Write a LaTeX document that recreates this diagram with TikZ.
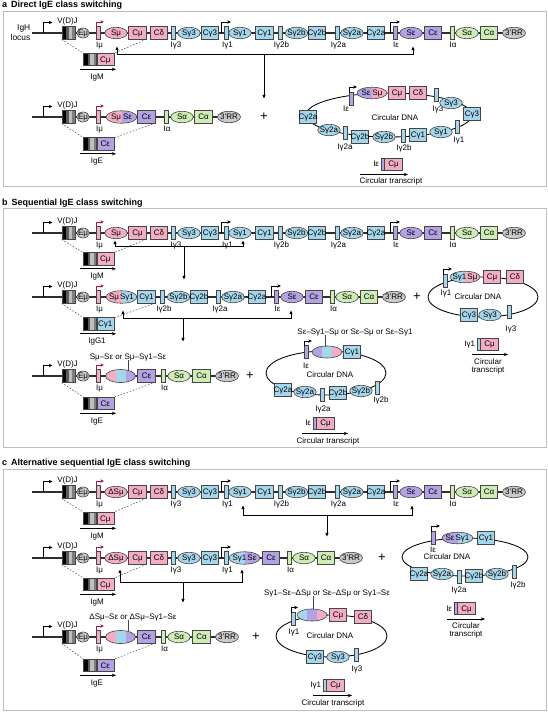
\documentclass[tikz,border=0pt]{standalone}
\usepackage{fontspec}
\setmainfont{Liberation Sans}
\usetikzlibrary{shapes.geometric,arrows.meta,calc}
\definecolor{pinkF}{HTML}{F4AEC4}
\definecolor{blueF}{HTML}{A6D6EC}
\definecolor{purpF}{HTML}{B4A2E4}
\definecolor{greenF}{HTML}{CDEDB5}
\definecolor{grayF}{HTML}{CACACA}
\definecolor{edge}{HTML}{454545}
\definecolor{lineC}{HTML}{2E2E2E}
\definecolor{redA}{HTML}{A01E3C}
\definecolor{frameC}{HTML}{BDBDBD}
\definecolor{gA}{HTML}{5A5A5A}
\definecolor{gB}{HTML}{BEBEBE}
\definecolor{gC}{HTML}{7E7E7E}
\tikzset{
  base/.style={draw=edge, line width=0.6pt, inner sep=0pt, outer sep=0pt,
    font=\fontsize{8}{9}\selectfont, text height=5.4pt, text depth=0pt,
    execute at begin node={\hbox to 0pt\bgroup\hss}, execute at end node={\hss\egroup}},
  cbox/.style={base, rectangle, minimum width=17.5pt, minimum height=12.5pt},
  sell/.style={base, ellipse, minimum width=22.5pt, minimum height=11.5pt},
  ibar/.style={base, rectangle, minimum width=4pt, minimum height=13pt},
  tbar/.style={base, rectangle, minimum width=3.5pt, minimum height=12pt},
  eell/.style={base, ellipse, fill=grayF, minimum width=12.5pt, minimum height=10pt},
  rrell/.style={base, ellipse, fill=grayF, minimum width=23pt, minimum height=11.5pt},
  lbl/.style={inner sep=0pt, font=\fontsize{8}{9}\selectfont, text height=5.4pt, text depth=0pt},
  vdjs/.style={draw=edge, line width=0.6pt, inner sep=0pt, minimum width=13pt, minimum height=12.5pt,
    path picture={
      \fill[black] (path picture bounding box.south west) rectangle ([xshift=4pt]path picture bounding box.north west);
      \fill[gA] ([xshift=4pt]path picture bounding box.south west) rectangle ([xshift=6.5pt]path picture bounding box.north west);
      \fill[gB] ([xshift=6.5pt]path picture bounding box.south west) rectangle ([xshift=10pt]path picture bounding box.north west);
      \fill[gC] ([xshift=10pt]path picture bounding box.south west) rectangle (path picture bounding box.north east);}},
  duo/.style 2 args={base, ellipse, minimum width=31pt, minimum height=12.5pt,
    path picture={
      \fill[#1] (path picture bounding box.south west) rectangle (path picture bounding box.north);
      \fill[#2] (path picture bounding box.south) rectangle (path picture bounding box.north east);}},
  tri/.style n args={3}{base, ellipse, minimum width=30pt, minimum height=13pt,
    path picture={
      \fill[#1] (path picture bounding box.south west) rectangle ([xshift=-5pt]path picture bounding box.north);
      \fill[#2] ([xshift=-5pt]path picture bounding box.south) rectangle ([xshift=5pt]path picture bounding box.north);
      \fill[#3] ([xshift=5pt]path picture bounding box.south) rectangle (path picture bounding box.north east);}},
  locus/.style={draw=lineC, line width=1.05pt},
  prom/.style={draw=black, line width=0.75pt, -{Stealth[length=3.8pt,width=3.4pt]}},
  promr/.style={draw=redA, line width=0.75pt, -{Stealth[length=3.8pt,width=3.4pt]}},
  dsh/.style={draw=edge, line width=0.5pt, dash pattern=on 1.6pt off 1.6pt},
  swarr/.style={draw=black, line width=0.85pt, {Latex[length=4.2pt,width=3.6pt]}-{Latex[length=4.2pt,width=3.6pt]}},
  dnarr/.style={draw=black, line width=0.85pt, -{Latex[length=4.2pt,width=3.6pt]}},
  tarr/.style={draw=black, line width=0.85pt, -{Stealth[length=4.2pt,width=3.4pt]}},
  tick/.style={draw=edge, line width=0.55pt},
  loopl/.style={draw=black, line width=0.85pt},
  frame/.style={draw=frameC, line width=1pt},
  plus/.style={inner sep=0pt, font=\fontsize{13}{13}\selectfont},
  ttl/.style={inner sep=0pt, anchor=west, font=\fontsize{9}{10}\selectfont\bfseries},
}
% row pieces (used inside a shifted scope, y=0 is the locus line)
\newcommand{\rowstart}[2]{%
  \coordinate (#1L) at (32,0);
  \coordinate (#1E) at (#2,0);
  \draw[locus] (#1L) -- (#1E);
  \coordinate (#1P) at (43,0);
  \draw[prom] (#1P) -- ++(0,-10.5) -- ++(9.5,0);
  \node[vdjs] (#1V) at (68.5,0) {};
  \node[lbl] (#1Vt) at (67.5,-12.5) {V(D)J};
  \node[eell] (#1Emu) at (83,0) {Eμ};
  \node[ibar,fill=pinkF] (#1Imu) at (98,0) {};
  \draw[promr] (#1Imu.north west) -- ++(0,-4.5) -- ++(8,0);
  \node[lbl] (#1tImu) at (99.5,11.5) {Iμ};
}
\newcommand{\germmid}[2]{%
  \node[sell,fill=pinkF] (#1Smu) at (116,0) {#2};
  \node[cbox,fill=pinkF] (#1Cmu) at (137.5,0) {Cμ};
  \node[cbox,fill=pinkF] (#1Cd) at (159,0) {Cδ};
  \node[ibar,fill=blueF] (#1Ig3) at (173.5,0) {};
  \node[lbl] (#1tIg3) at (176,11.5) {Iγ3};
  \node[sell,fill=blueF] (#1Sg3) at (189,0) {Sγ3};
  \node[cbox,fill=blueF] (#1Cg3) at (210,0) {Cγ3};
  \node[ibar,fill=blueF] (#1Ig1) at (226,0) {};
  \draw[prom] ([xshift=-3pt]#1Ig1.west) -- ++(0,-11) -- ++(10,0);
  \node[lbl] (#1tIg1) at (227.5,11.5) {Iγ1};
}
\newcommand{\germrest}[1]{%
  \node[sell,fill=blueF] (#1Sg1) at (240,0) {Sγ1};
  \node[cbox,fill=blueF] (#1Cg1) at (264.5,0) {Cγ1};
  \node[ibar,fill=blueF] (#1Ig2b) at (280,0) {};
  \node[lbl] (#1tIg2b) at (281.5,11.5) {Iγ2b};
  \node[sell,fill=blueF] (#1Sg2b) at (296.5,0) {Sγ2b};
  \node[cbox,fill=blueF] (#1Cg2b) at (317,0) {Cγ2b};
  \node[ibar,fill=blueF] (#1Ig2a) at (337,0) {};
  \node[lbl] (#1tIg2a) at (338.5,11.5) {Iγ2a};
  \node[sell,fill=blueF] (#1Sg2a) at (352,0) {Sγ2a};
  \node[cbox,fill=blueF] (#1Cg2a) at (376,0) {Cγ2a};
  \node[ibar,fill=purpF] (#1Ie) at (395,0) {};
  \draw[prom] ([xshift=-3pt]#1Ie.west) -- ++(0,-11) -- ++(10,0);
  \node[lbl] (#1tIe) at (396,11.5) {Iε};
  \node[sell,fill=purpF] (#1Se) at (411,0) {Sε};
  \node[cbox,fill=purpF] (#1Ce) at (433,0) {Cε};
  \node[ibar,fill=greenF] (#1Ia) at (452,0) {};
  \node[lbl] (#1tIa) at (453,11.5) {Iα};
  \node[sell,fill=greenF] (#1Sa) at (467,0) {Sα};
  \node[cbox,fill=greenF] (#1Ca) at (489,0) {Cα};
  \node[rrell] (#1RR) at (514,0) {3'RR};
}
\newcommand{\germrow}[3]{%
  \begin{scope}[shift={(0,#2)}]
    \rowstart{#1}{514}
    \germmid{#1}{#3}
    \germrest{#1}
  \end{scope}}
\newcommand{\tscript}[5]{%
  \node[vdjs] (#1tV) at (90,#2) {};
  \node[cbox,fill=#3,anchor=west,minimum width=17pt] (#1tC) at (#1tV.east) {#4};
  \coordinate (#1tA) at (80,#2+9.8);
  \coordinate (#1tB) at (116,#2+9.8);
  \draw[tarr] (#1tA) -- (#1tB);
  \node[lbl] (#1tL) at (97,#2+17) {#5};
}
\newcommand{\ctscript}[8]{%
  \node[tbar,fill=#4] (#1I) at (#2,#3) {};
  \node[cbox,fill=pinkF,anchor=west,minimum height=12pt] (#1C) at (#1I.east) {Cμ};
  \node[lbl,anchor=east] (#1L) at ([xshift=-2pt]#1I.west) {#5};
  \coordinate (#1A) at (#6,#3+10.5);
  \coordinate (#1B) at (#7,#3+10.5);
  \draw[tarr] (#1A) -- (#1B);
  #8
}
\begin{document}
\begin{tikzpicture}[x=1pt,y=-1pt]
\useasboundingbox (0,0) rectangle (548,713);
%================ panel a
\node[ttl] (ta) at (2,5) {a\hspace{4pt}Direct IgE class switching};
\draw[frame] (3,11) rectangle (546,186);
\node[lbl,anchor=east,font=\fontsize{8.4}{9}\selectfont] (alo1) at (30.5,27.5) {IgH};
\node[lbl,anchor=east,font=\fontsize{8.4}{9}\selectfont] (alo2) at (30.5,37.5) {locus};
\germrow{a1}{33}{Sμ}
\tscript{a1}{59.5}{pinkF}{Cμ}{IgM}
\draw[dsh] (a1V.south west) -- (a1tV.north west);
\draw[dsh] (a1Cmu.south east) -- (a1tC.north east);
\coordinate (a1s1) at (117,46);
\coordinate (a1s2) at (413,46);
\draw[swarr] (a1s1) -- ++(0,8.5) -| (a1s2);
\coordinate (a1d1) at (264,54.5);
\coordinate (a1d2) at (264,99);
\draw[dnarr] (a1d1) -- (a1d2);
% row a2
\begin{scope}[shift={(0,117)}]
  \rowstart{a2}{229}
  \node[duo={pinkF}{purpF}] (a2Sme) at (121.5,0) {Sμ\hspace{2pt}Sε};
  \node[cbox,fill=purpF] (a2Ce) at (146.5,0) {Cε};
  \node[ibar,fill=greenF] (a2Ia) at (166,0) {};
  \node[lbl] (a2tIa) at (167,11.5) {Iα};
  \node[sell,fill=greenF] (a2Sa) at (182,0) {Sα};
  \node[cbox,fill=greenF] (a2Ca) at (203.5,0) {Cα};
  \node[rrell] (a2RR) at (229,0) {3'RR};
\end{scope}
\tscript{a2}{144}{purpF}{Cε}{IgE}
\draw[dsh] (a2V.south west) -- (a2tV.north west);
\draw[dsh] (a2Ce.south east) -- (a2tC.north east);
\node[plus] (aplus) at (264,117) {+};
% circle a
\coordinate (acirc) at (389,115);
\draw[loopl] (acirc) ellipse [x radius=83pt, y radius=22pt];
\node[ibar,fill=purpF] (acIe) at (351,99) {};
\draw[prom] (acIe.north west) -- ++(0,-5.5) -- ++(8,0);
\node[lbl] (actIe) at (346,108.5) {Iε};
\node[duo={purpF}{pinkF},minimum width=30pt,minimum height=11.5pt] (acSem) at (372,93) {Sε\hspace{2pt}Sμ};
\node[cbox,fill=pinkF] (acCmu) at (397,93) {Cμ};
\node[cbox,fill=pinkF] (acCd) at (418,93) {Cδ};
\node[ibar,fill=blueF] (acIg3) at (436,95) {};
\node[lbl] (actIg3) at (438,108.5) {Iγ3};
\node[sell,fill=blueF] (acSg3) at (451,103) {Sγ3};
\node[cbox,fill=blueF] (acCg3) at (472,114) {Cγ3};
\node[ibar,fill=blueF] (acIg1) at (457,127) {};
\node[lbl] (actIg1) at (459,139.5) {Iγ1};
\node[sell,fill=blueF] (acSg1) at (441,132) {Sγ1};
\node[cbox,fill=blueF] (acCg1) at (418,135) {Cγ1};
\node[ibar,fill=blueF] (acIg2b) at (403,136) {};
\node[lbl] (actIg2b) at (404,147.5) {Iγ2b};
\node[sell,fill=blueF] (acSg2b) at (384,137) {Sγ2b};
\node[cbox,fill=blueF] (acCg2b) at (360,137) {Cγ2b};
\node[ibar,fill=blueF] (acIg2a) at (345,133) {};
\node[lbl] (actIg2a) at (345,146.5) {Iγ2a};
\node[sell,fill=blueF] (acSg2a) at (329,130) {Sγ2a};
\node[cbox,fill=blueF] (acCg2a) at (308,117) {Cγ2a};
\node[lbl] (acDNA) at (395,118) {Circular DNA};
\ctscript{actr}{383}{164}{purpF}{Iε}{360}{408}{\node[lbl] (actrT) at (391,181) {Circular transcript};}
%================ panel b
\node[ttl] (tb) at (2,203) {b\hspace{4pt}Sequential IgE class switching};
\draw[frame] (3,208) rectangle (546,447);
\germrow{b1}{233}{Sμ}
\tscript{b1}{259}{pinkF}{Cμ}{IgM}
\draw[dsh] (b1V.south west) -- (b1tV.north west);
\draw[dsh] (b1Cmu.south east) -- (b1tC.north east);
\coordinate (b1s1) at (115,240);
\coordinate (b1s2) at (243,240);
\draw[swarr] (b1s1) -- ++(0,6.5) -| (b1s2);
\coordinate (b1d1) at (184,246.5);
\coordinate (b1d2) at (184,280);
\draw[dnarr] (b1d1) -- (b1d2);
% row b2
\begin{scope}[shift={(0,297)}]
  \rowstart{b2}{394}
  \node[duo={pinkF}{blueF}] (b2Smg) at (121.5,0) {Sμ\hspace{1pt}Sγ1};
  \node[cbox,fill=blueF] (b2Cg1) at (146.5,0) {Cγ1};
  \node[ibar,fill=blueF] (b2Ig2b) at (162,0) {};
  \node[lbl] (b2tIg2b) at (164,11.5) {Iγ2b};
  \node[sell,fill=blueF] (b2Sg2b) at (178.5,0) {Sγ2b};
  \node[cbox,fill=blueF] (b2Cg2b) at (199,0) {Cγ2b};
  \node[ibar,fill=blueF] (b2Ig2a) at (218,0) {};
  \node[lbl] (b2tIg2a) at (220,11.5) {Iγ2a};
  \node[sell,fill=blueF] (b2Sg2a) at (233,0) {Sγ2a};
  \node[cbox,fill=blueF] (b2Cg2a) at (257,0) {Cγ2a};
  \node[ibar,fill=purpF] (b2Ie) at (276,0) {};
  \draw[prom] ([xshift=-3pt]b2Ie.west) -- ++(0,-11) -- ++(10,0);
  \node[lbl] (b2tIe) at (277.5,11.5) {Iε};
  \node[sell,fill=purpF] (b2Se) at (292,0) {Sε};
  \node[cbox,fill=purpF] (b2Ce) at (314,0) {Cε};
  \node[ibar,fill=greenF] (b2Ia) at (332,0) {};
  \node[lbl] (b2tIa) at (333.5,11.5) {Iα};
  \node[sell,fill=greenF] (b2Sa) at (347,0) {Sα};
  \node[cbox,fill=greenF] (b2Ca) at (369,0) {Cα};
  \node[rrell] (b2RR) at (394,0) {3'RR};
\end{scope}
\tscript{b2}{324}{blueF}{Cγ1}{IgG1}
\draw[dsh] (b2V.south west) -- (b2tV.north west);
\draw[dsh] (b2Cg1.south east) -- (b2tC.north east);
\coordinate (b2s1) at (123,310);
\coordinate (b2s2) at (291,310);
\draw[swarr] (b2s1) -- ++(0,8) -| (b2s2);
\coordinate (b2d1) at (183,318);
\coordinate (b2d2) at (183,342);
\draw[dnarr] (b2d1) -- (b2d2);
\node[plus] (bplus1) at (417,297) {+};
% circle b1
\coordinate (bcirc) at (483,297);
\draw[loopl] (bcirc) ellipse [x radius=55pt, y radius=20pt];
\node[ibar,fill=blueF] (bcIg1) at (445,281) {};
\draw[prom] (bcIg1.north west) -- ++(0,-5.5) -- ++(9,0);
\node[lbl] (bctIg1) at (446,292.5) {Iγ1};
\node[duo={blueF}{pinkF},minimum width=30pt,minimum height=11.5pt] (bcSgm) at (465,277) {Sγ1\hspace{1pt}Sμ};
\node[cbox,fill=pinkF] (bcCmu) at (492,277) {Cμ};
\node[cbox,fill=pinkF] (bcCd) at (515,277) {Cδ};
\node[lbl] (bcDNA) at (478,297) {Circular DNA};
\node[cbox,fill=blueF] (bcCg3) at (469,315) {Cγ3};
\node[sell,fill=blueF] (bcSg3) at (490,315) {Sγ3};
\node[ibar,fill=blueF] (bcIg3) at (509,312) {};
\node[lbl] (bctIg3) at (511,328.5) {Iγ3};
\ctscript{bctr}{479}{344}{blueF}{Iγ1}{472}{508}{\node[lbl] (bctrT1) at (488,362) {Circular};\node[lbl] (bctrT2) at (488,370) {transcript};}
% row b3
\begin{scope}[shift={(0,376)}]
  \rowstart{b3}{227}
  \node[tri={pinkF}{blueF}{purpF}] (b3S) at (120.5,0) {};
  \node[cbox,fill=purpF] (b3Ce) at (146.5,0) {Cε};
  \node[ibar,fill=greenF] (b3Ia) at (163,0) {};
  \node[lbl] (b3tIa) at (164.5,11.5) {Iα};
  \node[sell,fill=greenF] (b3Sa) at (179,0) {Sα};
  \node[cbox,fill=greenF] (b3Ca) at (201.5,0) {Cα};
  \node[rrell] (b3RR) at (227,0) {3'RR};
  \node[lbl] (b3lab) at (128,-19) {Sμ–Sε or Sμ–Sγ1–Sε};
  \coordinate (b3k) at (128,-6);
  \draw[tick] (b3lab.south) -- (b3k);
\end{scope}
\tscript{b3}{403.5}{purpF}{Cε}{IgE}
\draw[dsh] (b3V.south west) -- (b3tV.north west);
\draw[dsh] (b3Ce.south east) -- (b3tC.north east);
\node[plus] (bplus2) at (250,376) {+};
% circle b2
\coordinate (bc2circ) at (326,373);
\draw[loopl] (bc2circ) ellipse [x radius=60pt, y radius=22pt];
\node[lbl] (bc2lab) at (355,332) {Sε–Sγ1–Sμ or Sε–Sμ or Sε–Sγ1};
\node[ibar,fill=purpF] (bc2Ie) at (306,352) {};
\draw[prom] (bc2Ie.north west) -- ++(0,-4.5) -- ++(8,0);
\node[lbl] (bc2tIe) at (306,366) {Iε};
\node[tri={purpF}{blueF}{pinkF},minimum height=12pt] (bc2S) at (327,352) {};
\coordinate (bc2k) at (325,346.5);
\draw[tick] (bc2lab.south -| bc2k) -- (bc2k);
\node[cbox,fill=blueF] (bc2Cg1) at (352,352) {Cγ1};
\node[lbl] (bc2DNA) at (330,375) {Circular DNA};
\node[cbox,fill=blueF] (bc2Cg2a) at (283,390) {Cγ2a};
\node[sell,fill=blueF] (bc2Sg2a) at (305,392) {Sγ2a};
\node[ibar,fill=blueF] (bc2Ig2a) at (322,395) {};
\node[lbl] (bc2tIg2a) at (323,408.5) {Iγ2a};
\node[cbox,fill=blueF] (bc2Cg2b) at (338,393) {Cγ2b};
\node[sell,fill=blueF] (bc2Sg2b) at (361,391) {Sγ2b};
\node[ibar,fill=blueF] (bc2Ig2b) at (377,388) {};
\node[lbl] (bc2tIg2b) at (381,399.5) {Iγ2b};
\ctscript{bc2tr}{315}{423}{purpF}{Iε}{302}{348}{\node[lbl] (bc2trT) at (328,441) {Circular transcript};}
%================ panel c
\node[ttl] (tc) at (2,463) {c\hspace{4pt}Alternative sequential IgE class switching};
\draw[frame] (3,469) rectangle (546,710);
\germrow{c1}{492}{ΔSμ}
\tscript{c1}{518.5}{pinkF}{Cμ}{IgM}
\draw[dsh] (c1V.south west) -- (c1tV.north west);
\draw[dsh] (c1Cmu.south east) -- (c1tC.north east);
\coordinate (c1s1) at (243,505);
\coordinate (c1s2) at (412,505);
\draw[swarr] (c1s1) -- ++(0,10) -| (c1s2);
\coordinate (c1d1) at (327,515);
\coordinate (c1d2) at (327,537);
\draw[dnarr] (c1d1) -- (c1d2);
% row c2
\begin{scope}[shift={(0,558)}]
  \rowstart{c2}{351}
  \germmid{c2}{ΔSμ}
  \node[duo={blueF}{purpF}] (c2Sge) at (244.5,0) {Sγ1\hspace{1pt}Sε};
  \node[cbox,fill=purpF] (c2Ce) at (271,0) {Cε};
  \node[ibar,fill=greenF] (c2Ia) at (289,0) {};
  \node[lbl] (c2tIa) at (290.5,11.5) {Iα};
  \node[sell,fill=greenF] (c2Sa) at (304,0) {Sα};
  \node[cbox,fill=greenF] (c2Ca) at (326,0) {Cα};
  \node[rrell] (c2RR) at (351,0) {3'RR};
\end{scope}
\tscript{c2}{584.5}{pinkF}{Cμ}{IgM}
\draw[dsh] (c2V.south west) -- (c2tV.north west);
\draw[dsh] (c2Cmu.south east) -- (c2tC.north east);
\coordinate (c2s1) at (120,569);
\coordinate (c2s2) at (242,569);
\draw[swarr] (c2s1) -- ++(0,13) -| (c2s2);
\coordinate (c2d1) at (183,582);
\coordinate (c2d2) at (183,603);
\draw[dnarr] (c2d1) -- (c2d2);
\node[plus] (cplus1) at (382,558) {+};
% circle c1
\coordinate (ccirc) at (465,557);
\draw[loopl] (ccirc) ellipse [x radius=63pt, y radius=19pt];
\node[ibar,fill=purpF] (ccIe) at (433,538) {};
\draw[prom] (ccIe.north west) -- ++(0,-5.5) -- ++(9,0);
\node[lbl] (cctIe) at (433,549.5) {Iε};
\node[duo={purpF}{blueF},minimum width=31pt,minimum height=11.5pt] (ccSeg) at (457.5,538) {Sε\hspace{1pt}Sγ1};
\node[cbox,fill=blueF] (ccCg1) at (486,538) {Cγ1};
\node[lbl] (ccDNA) at (447,557) {Circular DNA};
\node[cbox,fill=blueF] (ccCg2a) at (419,574) {Cγ2a};
\node[sell,fill=blueF] (ccSg2a) at (442,574) {Sγ2a};
\node[ibar,fill=blueF] (ccIg2a) at (459,577) {};
\node[lbl] (cctIg2a) at (459,589.5) {Iγ2a};
\node[cbox,fill=blueF] (ccCg2b) at (474,576) {Cγ2b};
\node[sell,fill=blueF] (ccSg2b) at (497,574) {Sγ2b};
\node[ibar,fill=blueF] (ccIg2b) at (514,572) {};
\node[lbl] (cctIg2b) at (518,584.5) {Iγ2b};
\ctscript{cctr}{456}{608.5}{purpF}{Iε}{447}{485}{\node[lbl] (cctrT1) at (466,626) {Circular};\node[lbl] (cctrT2) at (466,633.5) {transcript};}
% row c3
\begin{scope}[shift={(0,637)}]
  \rowstart{c3}{227}
  \node[tri={pinkF}{blueF}{purpF}] (c3S) at (120.5,0) {};
  \node[cbox,fill=purpF] (c3Ce) at (146.5,0) {Cε};
  \node[ibar,fill=greenF] (c3Ia) at (163,0) {};
  \node[lbl] (c3tIa) at (164.5,11.5) {Iα};
  \node[sell,fill=greenF] (c3Sa) at (179,0) {Sα};
  \node[cbox,fill=greenF] (c3Ca) at (201.5,0) {Cα};
  \node[rrell] (c3RR) at (227,0) {3'RR};
  \node[lbl] (c3lab) at (133,-20) {ΔSμ–Sε or ΔSμ–Sγ1–Sε};
  \coordinate (c3k) at (128,-6);
  \draw[tick] (c3lab.south -| c3k) -- (c3k);
\end{scope}
\tscript{c3}{665.5}{purpF}{Cε}{IgE}
\draw[dsh] (c3V.south west) -- (c3tV.north west);
\draw[dsh] (c3Ce.south east) -- (c3tC.north east);
\node[plus] (cplus2) at (256,637) {+};
% circle c2
\coordinate (cc2circ) at (331.5,636);
\draw[loopl] (cc2circ) ellipse [x radius=55.5pt, y radius=21pt];
\node[lbl] (cc2lab) at (327,593) {Sγ1–Sε–ΔSμ or Sε–ΔSμ or Sγ1–Sε};
\node[ibar,fill=blueF] (cc2Ig1) at (293,619) {};
\draw[prom] (cc2Ig1.north west) -- ++(0,-5) -- ++(7,0);
\node[lbl] (cc2tIg1) at (294,631.5) {Iγ1};
\node[tri={blueF}{purpF}{pinkF},minimum height=12pt] (cc2S) at (312,615) {};
\coordinate (cc2k) at (313,609);
\draw[tick] (cc2lab.south -| cc2k) -- (cc2k);
\node[cbox,fill=pinkF] (cc2Cmu) at (338,615) {Cμ};
\node[cbox,fill=pinkF] (cc2Cd) at (363,617) {Cδ};
\node[lbl] (cc2DNA) at (330,636) {Circular DNA};
\node[cbox,fill=blueF] (cc2Cg3) at (315,657) {Cγ3};
\node[sell,fill=blueF] (cc2Sg3) at (338,657) {Sγ3};
\node[ibar,fill=blueF] (cc2Ig3) at (356,655) {};
\node[lbl] (cc2tIg3) at (357,668.5) {Iγ3};
\ctscript{cc2tr}{325}{685}{blueF}{Iγ1}{313}{352}{\node[lbl] (cc2trT) at (333,703) {Circular transcript};}
\end{tikzpicture}
\end{document}
